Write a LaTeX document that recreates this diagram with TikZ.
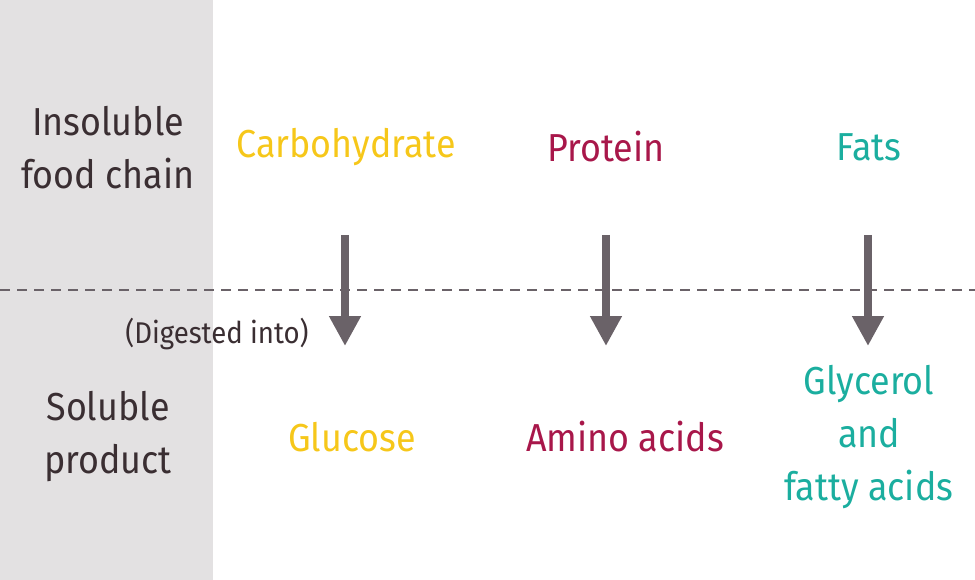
\documentclass[tikz,border=0pt]{standalone}
\usepackage{fontspec}
\setmainfont{Fira Sans}[FakeStretch=0.92]
\usetikzlibrary{arrows.meta}
\definecolor{panelgrey}{HTML}{E3E1E2}
\definecolor{darktext}{HTML}{3A2E32}
\definecolor{carbyellow}{HTML}{F6C71A}
\definecolor{protred}{HTML}{A8174A}
\definecolor{fatteal}{HTML}{1BAE9F}
\definecolor{arrowgrey}{HTML}{6A6268}
\begin{document}
\begin{tikzpicture}[x=1pt, y=-1pt]
    \tikzstyle{label} = [font=\fontsize{39}{53}\selectfont, align=center, inner sep=0pt]
    \tikzstyle{side} = [label, text=darktext]
    \tikzstyle{digest} = [-{Triangle[width=30pt, length=30pt]}, line width=8pt, arrowgrey]
    \useasboundingbox (0,0) rectangle (975,580);
    \fill[panelgrey] (0,0) rectangle (213,580);
    \draw[arrowgrey, line width=1.6pt, dash pattern=on 10pt off 7pt] (0,290) -- (975,290);
    % row labels
    \node[side] (insoluble) at (108,148) {Insoluble\\food chain};
    \node[side] (soluble) at (108,437) {Soluble\\product};
    \node[side, font=\fontsize{30}{36}\selectfont] (into) at (217,334) {(Digested into)};
    % food groups
    \node[label, text=carbyellow] (carb) at (346,147) {Carbohydrate};
    \node[label, text=protred] (prot) at (606,147) {Protein};
    \node[label, text=fatteal] (fats) at (869,147) {Fats};
    % products
    \node[label, text=carbyellow] (glucose) at (352,437) {Glucose};
    \node[label, text=protred] (amino) at (625,437) {Amino acids};
    \node[label, text=fatteal] (glycerol) at (869,437) {Glycerol\\and\\fatty acids};
    % arrows
    \coordinate (carbtop) at (345,235);
    \coordinate (carbend) at (345,346);
    \coordinate (prottop) at (606,235);
    \coordinate (protend) at (606,346);
    \coordinate (fatstop) at (868,235);
    \coordinate (fatsend) at (868,346);
    \draw[digest] (carbtop) -- (carbend);
    \draw[digest] (prottop) -- (protend);
    \draw[digest] (fatstop) -- (fatsend);
\end{tikzpicture}
\end{document}
